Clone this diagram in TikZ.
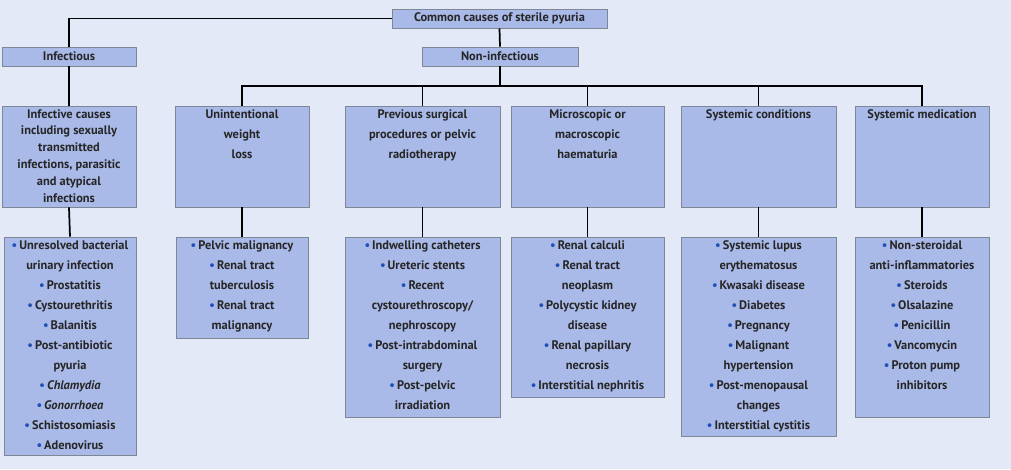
\documentclass[tikz,border=0pt]{standalone}
\usepackage{fontspec}
\setmainfont{PT Sans}[BoldFont={PT Sans Bold}]
\definecolor{bg}{HTML}{E3E9F6}
\definecolor{bx}{HTML}{A9B9E8}
\definecolor{bd}{HTML}{7E8796}
\definecolor{bl}{HTML}{1F4FB8}
\newcommand{\bu}{{\color{bl}\textbullet}\,}
\newcommand{\mybox}[7]{%
  \pgfmathsetmacro{\W}{(#5-#3)*0.75}%
  \pgfmathsetmacro{\H}{(#6-#4)*0.75}%
  \pgfmathsetmacro{\TW}{(#5-#3)*0.75-2}%
  \node[bxs,minimum width=\W pt,minimum height=\H pt] (#2) at ({(#3+#5)/2},{(#4+#6)/2})
    {\parbox[c][\H pt][#1]{\TW pt}{\centering\ifx t#1\vspace{2.5pt}\fi#7\par}};}
\begin{document}
\begin{tikzpicture}[x=0.75pt,y=-0.75pt,
  bxs/.style={draw=bd,fill=bx,line width=0.6pt,inner sep=0pt,font=\bfseries\fontsize{9.3}{15}\selectfont,text=black!85},
  ln/.style={line width=1.3pt,black}]
\fill[bg] (0,0) rectangle (1011,469);
\useasboundingbox (0,0) rectangle (1011,469);
\mybox{c}{root}{392}{9}{607}{28}{Common causes of sterile pyuria}
\mybox{c}{inf}{2}{47}{136}{66}{Infectious}
\mybox{c}{non}{422}{47}{578}{66}{Non-infectious}
\mybox{t}{a1}{2}{106}{136}{207}{\fontsize{9.3}{12.6}\selectfont Infective causes\\including sexually\\transmitted\\infections, parasitic\\and atypical\\infections}
\mybox{t}{a2}{175}{106}{309}{207}{Unintentional\\weight\\loss}
\mybox{t}{a3}{345}{106}{500}{207}{Previous surgical\\procedures or pelvic\\radiotherapy}
\mybox{t}{a4}{511}{106}{664}{207}{Microscopic or\\macroscopic\\haematuria}
\mybox{t}{a5}{681}{106}{836}{207}{Systemic conditions}
\mybox{t}{a6}{855}{106}{989}{207}{Systemic medication}
\mybox{t}{b1}{4}{237}{136}{455}{\bu Unresolved bacterial\\urinary infection\\\bu Prostatitis\\\bu Cystourethritis\\\bu Balanitis\\\bu Post-antibiotic\\pyuria\\\bu \textit{Chlamydia}\\\bu \textit{Gonorrhoea}\\\bu Schistosomiasis\\\bu Adenovirus}
\mybox{t}{b2}{176}{237}{308}{338}{\bu Pelvic malignancy\\\bu Renal tract\\tuberculosis\\\bu Renal tract\\malignancy}
\mybox{t}{b3}{345}{237}{500}{417}{\bu Indwelling catheters\\\bu Ureteric stents\\\bu Recent\\cystourethroscopy/\\nephroscopy\\\bu Post-intrabdominal\\surgery\\\bu Post-pelvic\\irradiation}
\mybox{t}{b4}{511}{237}{664}{397}{\bu Renal calculi\\\bu Renal tract\\neoplasm\\\bu Polycystic kidney\\disease\\\bu Renal papillary\\necrosis\\\bu Interstitial nephritis}
\mybox{t}{b5}{681}{237}{836}{436}{\bu Systemic lupus\\erythematosus\\\bu Kwasaki disease\\\bu Diabetes\\\bu Pregnancy\\\bu Malignant\\hypertension\\\bu Post-menopausal\\changes\\\bu Interstitial cystitis}
\mybox{t}{b6}{855}{237}{989}{417}{\bu Non-steroidal\\anti-inflammatories\\\bu Steroids\\\bu Olsalazine\\\bu Penicillin\\\bu Vancomycin\\\bu Proton pump\\inhibitors}
\draw[ln] (root.west) -| (inf.north);
\draw[ln] (root.south) -- (non.north);
\coordinate (bus) at (500,86);
\draw[ln] (non.south) -- (bus);
\foreach \i in {2,...,6}{\draw[ln] (bus) -| (a\i.north);}
\foreach \i in {1,...,6}{\draw[ln] (a\i.south) -- (b\i.north);}
\draw[ln] (inf.south) -- (a1.north);
\end{tikzpicture}
\end{document}
